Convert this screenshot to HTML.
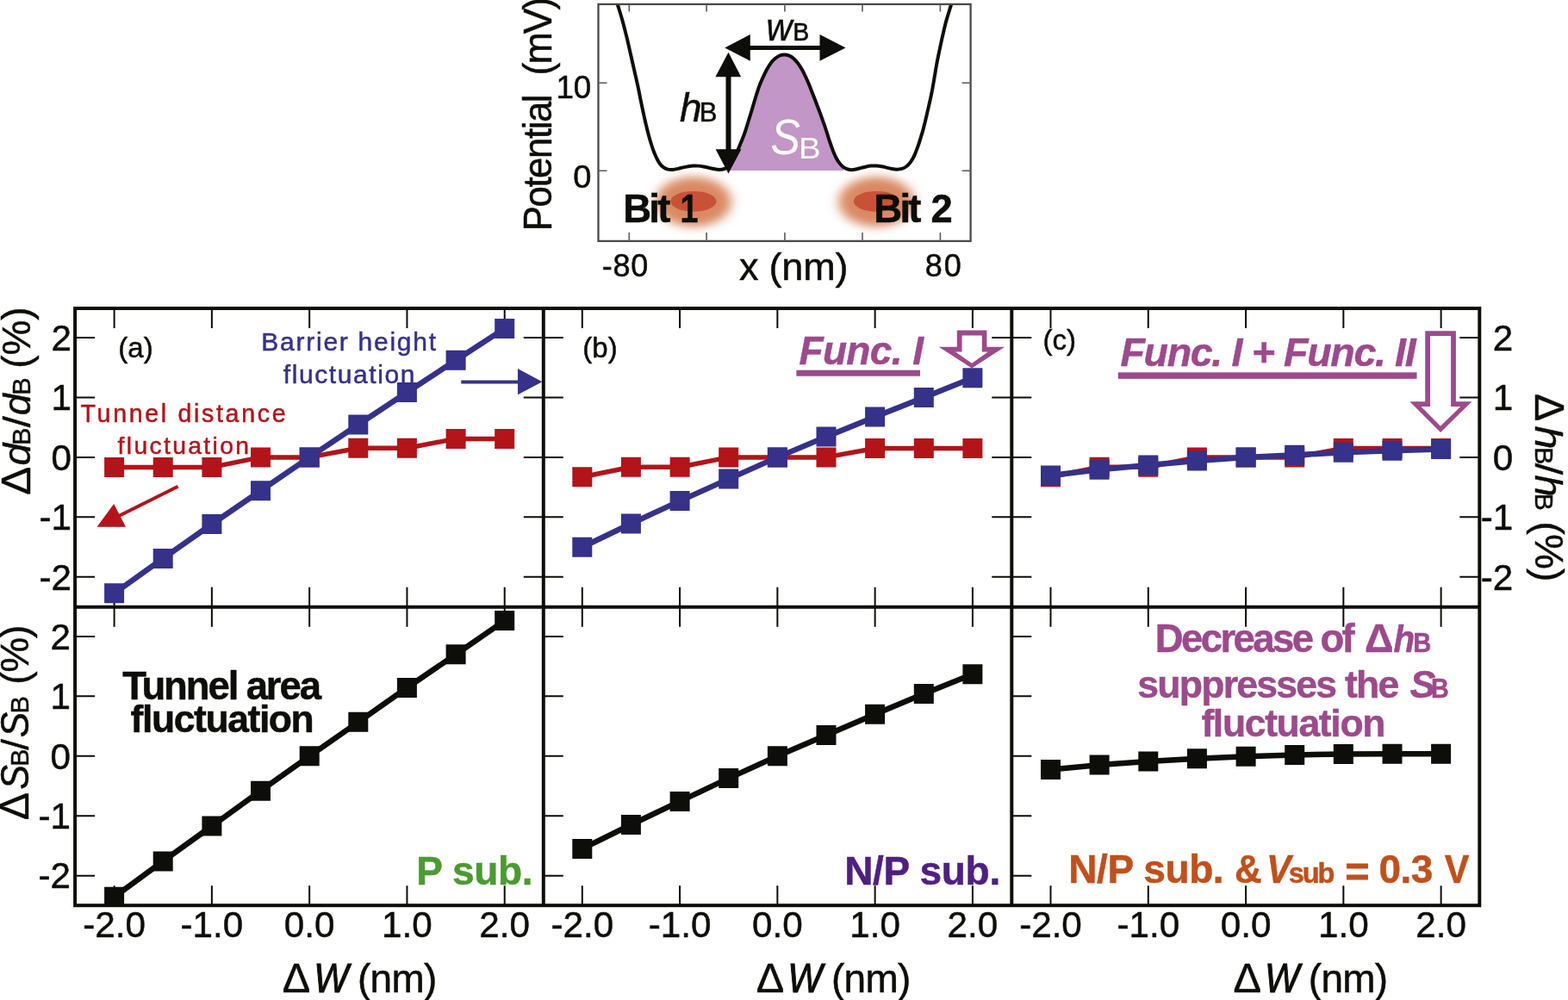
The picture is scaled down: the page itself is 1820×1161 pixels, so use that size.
<!DOCTYPE html>
<html lang="en">
<head>
<meta charset="utf-8">
<title>Potential barrier fluctuation figure</title>
<style>
html,body{margin:0;padding:0;background:#fff;}
body{width:1820px;height:1161px;overflow:hidden;}
svg{display:block;}
svg text{font-family:"Liberation Sans",sans-serif;}
</style>
</head>
<body>
<svg width="1820" height="1161" viewBox="0 0 1820 1161">
<rect x="0" y="0" width="1820" height="1161" fill="#fff"/>
<g stroke="#0d0d09" fill="none" stroke-linecap="butt">
<rect x="87.1" y="358.0" width="1630.20" height="693.20" stroke-width="4.0"/>
<line x1="630.8" y1="358.0" x2="630.8" y2="1051.2" stroke-width="4.0"/>
<line x1="1174.3" y1="358.0" x2="1174.3" y2="1051.2" stroke-width="4.0"/>
<line x1="87.1" y1="704.8" x2="1717.3" y2="704.8" stroke-width="4.0"/>
<path d="M132.60 358.0v23.0M132.60 681.8v46.0M132.60 1051.2v-23.0M245.88 358.0v23.0M245.88 681.8v46.0M245.88 1051.2v-23.0M359.16 358.0v23.0M359.16 681.8v46.0M359.16 1051.2v-23.0M472.44 358.0v23.0M472.44 681.8v46.0M472.44 1051.2v-23.0M585.72 358.0v23.0M585.72 681.8v46.0M585.72 1051.2v-23.0M675.80 358.0v23.0M675.80 681.8v46.0M675.80 1051.2v-23.0M789.08 358.0v23.0M789.08 681.8v46.0M789.08 1051.2v-23.0M902.36 358.0v23.0M902.36 681.8v46.0M902.36 1051.2v-23.0M1015.64 358.0v23.0M1015.64 681.8v46.0M1015.64 1051.2v-23.0M1128.92 358.0v23.0M1128.92 681.8v46.0M1128.92 1051.2v-23.0M1219.50 358.0v23.0M1219.50 681.8v46.0M1219.50 1051.2v-23.0M1332.78 358.0v23.0M1332.78 681.8v46.0M1332.78 1051.2v-23.0M1446.06 358.0v23.0M1446.06 681.8v46.0M1446.06 1051.2v-23.0M1559.34 358.0v23.0M1559.34 681.8v46.0M1559.34 1051.2v-23.0M1672.62 358.0v23.0M1672.62 681.8v46.0M1672.62 1051.2v-23.0M87.1 669.80h23.0M630.8 669.80h-23.0M87.1 1016.70h23.0M630.8 669.80h23.0M1174.3 669.80h-23.0M630.8 1016.70h23.0M1174.3 669.80h23.0M1717.3 669.80h-23.0M1174.3 1016.70h23.0M87.1 600.35h23.0M630.8 600.35h-23.0M87.1 947.25h23.0M630.8 600.35h23.0M1174.3 600.35h-23.0M630.8 947.25h23.0M1174.3 600.35h23.0M1717.3 600.35h-23.0M1174.3 947.25h23.0M87.1 530.90h23.0M630.8 530.90h-23.0M87.1 877.80h23.0M630.8 530.90h23.0M1174.3 530.90h-23.0M630.8 877.80h23.0M1174.3 530.90h23.0M1717.3 530.90h-23.0M1174.3 877.80h23.0M87.1 461.45h23.0M630.8 461.45h-23.0M87.1 808.35h23.0M630.8 461.45h23.0M1174.3 461.45h-23.0M630.8 808.35h23.0M1174.3 461.45h23.0M1717.3 461.45h-23.0M1174.3 808.35h23.0M87.1 392.00h23.0M630.8 392.00h-23.0M87.1 738.90h23.0M630.8 392.00h23.0M1174.3 392.00h-23.0M630.8 738.90h23.0M1174.3 392.00h23.0M1717.3 392.00h-23.0M1174.3 738.90h23.0" stroke-width="2.0"/>
</g>
<path d="M132.6 542.4L189.2 542.4L245.9 542.4L302.5 530.9L359.2 530.9L415.8 520.3L472.4 520.3L529.1 509.4L585.7 509.4" stroke="#b2141a" stroke-width="5.5" fill="none" stroke-linejoin="round"/>
<path d="M121.1 530.9h23.0v23.0h-23.0zM177.7 530.9h23.0v23.0h-23.0zM234.4 530.9h23.0v23.0h-23.0zM291.0 519.4h23.0v23.0h-23.0zM347.7 519.4h23.0v23.0h-23.0zM404.3 508.8h23.0v23.0h-23.0zM460.9 508.8h23.0v23.0h-23.0zM517.6 497.9h23.0v23.0h-23.0zM574.2 497.9h23.0v23.0h-23.0z" fill="#b2141a"/>
<path d="M132.6 688.8L189.2 648.4L245.9 608.5L302.5 569.8L359.2 530.9L415.8 493.0L472.4 455.5L529.1 418.3L585.7 381.4" stroke="#363189" stroke-width="6.5" fill="none" stroke-linejoin="round"/>
<path d="M121.1 677.3h23.0v23.0h-23.0zM177.7 636.9h23.0v23.0h-23.0zM234.4 597.0h23.0v23.0h-23.0zM291.0 558.3h23.0v23.0h-23.0zM347.7 519.4h23.0v23.0h-23.0zM404.3 481.5h23.0v23.0h-23.0zM460.9 444.0h23.0v23.0h-23.0zM517.6 406.8h23.0v23.0h-23.0zM574.2 369.9h23.0v23.0h-23.0z" fill="#363189"/>
<path d="M675.8 553.8L732.4 542.2L789.1 542.2L845.7 530.9L902.4 530.9L959.0 530.9L1015.6 520.5L1072.3 520.5L1128.9 520.5" stroke="#b2141a" stroke-width="5.5" fill="none" stroke-linejoin="round"/>
<path d="M664.3 542.3h23.0v23.0h-23.0zM720.9 530.7h23.0v23.0h-23.0zM777.6 530.7h23.0v23.0h-23.0zM834.2 519.4h23.0v23.0h-23.0zM890.9 519.4h23.0v23.0h-23.0zM947.5 519.4h23.0v23.0h-23.0zM1004.1 509.0h23.0v23.0h-23.0zM1060.8 509.0h23.0v23.0h-23.0zM1117.4 509.0h23.0v23.0h-23.0z" fill="#b2141a"/>
<path d="M675.8 635.2L732.4 608.0L789.1 581.6L845.7 556.1L902.4 530.9L959.0 507.1L1015.6 484.0L1072.3 461.4L1128.9 438.7" stroke="#363189" stroke-width="6.5" fill="none" stroke-linejoin="round"/>
<path d="M664.3 623.7h23.0v23.0h-23.0zM720.9 596.5h23.0v23.0h-23.0zM777.6 570.1h23.0v23.0h-23.0zM834.2 544.6h23.0v23.0h-23.0zM890.9 519.4h23.0v23.0h-23.0zM947.5 495.6h23.0v23.0h-23.0zM1004.1 472.5h23.0v23.0h-23.0zM1060.8 449.9h23.0v23.0h-23.0zM1117.4 427.2h23.0v23.0h-23.0z" fill="#363189"/>
<path d="M1219.5 553.8L1276.1 542.2L1332.8 542.2L1389.4 530.9L1446.1 530.9L1502.7 530.9L1559.3 520.5L1616.0 520.5L1672.6 520.5" stroke="#b2141a" stroke-width="5.5" fill="none" stroke-linejoin="round"/>
<path d="M1208.0 542.3h23.0v23.0h-23.0zM1264.6 530.7h23.0v23.0h-23.0zM1321.3 530.7h23.0v23.0h-23.0zM1377.9 519.4h23.0v23.0h-23.0zM1434.6 519.4h23.0v23.0h-23.0zM1491.2 519.4h23.0v23.0h-23.0zM1547.8 509.0h23.0v23.0h-23.0zM1604.5 509.0h23.0v23.0h-23.0zM1661.1 509.0h23.0v23.0h-23.0z" fill="#b2141a"/>
<path d="M1219.5 551.9L1276.1 545.3L1332.8 540.1L1389.4 535.1L1446.1 530.9L1502.7 528.3L1559.3 525.3L1616.0 523.3L1672.6 521.5" stroke="#363189" stroke-width="6.5" fill="none" stroke-linejoin="round"/>
<path d="M1208.0 540.4h23.0v23.0h-23.0zM1264.6 533.8h23.0v23.0h-23.0zM1321.3 528.6h23.0v23.0h-23.0zM1377.9 523.6h23.0v23.0h-23.0zM1434.6 519.4h23.0v23.0h-23.0zM1491.2 516.8h23.0v23.0h-23.0zM1547.8 513.8h23.0v23.0h-23.0zM1604.5 511.8h23.0v23.0h-23.0zM1661.1 510.0h23.0v23.0h-23.0z" fill="#363189"/>
<path d="M132.6 1041.3L189.2 999.9L245.9 959.0L302.5 918.2L359.2 877.8L415.8 838.3L472.4 798.5L529.1 759.7L585.7 720.6" stroke="#0d0d09" stroke-width="6.5" fill="none" stroke-linejoin="round"/>
<path d="M121.1 1029.8h23.0v23.0h-23.0zM177.7 988.4h23.0v23.0h-23.0zM234.4 947.5h23.0v23.0h-23.0zM291.0 906.7h23.0v23.0h-23.0zM347.7 866.3h23.0v23.0h-23.0zM404.3 826.8h23.0v23.0h-23.0zM460.9 787.0h23.0v23.0h-23.0zM517.6 748.2h23.0v23.0h-23.0zM574.2 709.1h23.0v23.0h-23.0z" fill="#0d0d09"/>
<path d="M675.8 985.4L732.4 957.5L789.1 930.4L845.7 903.6L902.4 877.8L959.0 853.6L1015.6 829.3L1072.3 805.6L1128.9 782.7" stroke="#0d0d09" stroke-width="6.5" fill="none" stroke-linejoin="round"/>
<path d="M664.3 973.9h23.0v23.0h-23.0zM720.9 946.0h23.0v23.0h-23.0zM777.6 918.9h23.0v23.0h-23.0zM834.2 892.1h23.0v23.0h-23.0zM890.9 866.3h23.0v23.0h-23.0zM947.5 842.1h23.0v23.0h-23.0zM1004.1 817.8h23.0v23.0h-23.0zM1060.8 794.1h23.0v23.0h-23.0zM1117.4 771.2h23.0v23.0h-23.0z" fill="#0d0d09"/>
<path d="M1219.5 893.4L1276.1 888.1L1332.8 884.1L1389.4 880.7L1446.1 878.2L1502.7 876.4L1559.3 875.5L1616.0 875.2L1672.6 875.2" stroke="#0d0d09" stroke-width="6.5" fill="none" stroke-linejoin="round"/>
<path d="M1208.0 881.9h23.0v23.0h-23.0zM1264.6 876.6h23.0v23.0h-23.0zM1321.3 872.6h23.0v23.0h-23.0zM1377.9 869.2h23.0v23.0h-23.0zM1434.6 866.7h23.0v23.0h-23.0zM1491.2 864.9h23.0v23.0h-23.0zM1547.8 864.0h23.0v23.0h-23.0zM1604.5 863.7h23.0v23.0h-23.0zM1661.1 863.7h23.0v23.0h-23.0z" fill="#0d0d09"/>
<line x1="206.6" y1="564.8" x2="138" y2="599" stroke="#b2141a" stroke-width="4"/>
<polygon points="112.5,611.8 146,611.8 132.2,585" fill="#b2141a"/>
<line x1="535.3" y1="443.4" x2="605" y2="443.4" stroke="#363189" stroke-width="4"/>
<polygon points="601,427.9 629.4,443.2 601,458.2" fill="#363189"/>
<polygon points="1110.8,383.6 1145.4,383.6 1145.4,402.8 1166.2,402.8 1128,427.6 1089.7,402.8 1110.8,402.8" fill="#9c4a8c"/>
<polygon points="1116.6,389.6 1139.8,389.6 1139.8,408.6 1146.8,408.6 1128,421.8 1109,408.6 1116.6,408.6" fill="#fff"/>
<polygon points="1654.2,384.3 1689.9,384.3 1689.9,466.2 1708.4,466.2 1672,502.1 1636.3,466.2 1654.2,466.2" fill="#9c4a8c"/>
<polygon points="1660,390.1 1684.1,390.1 1684.1,471.9 1695.2,471.9 1672,494.7 1649.5,471.9 1660,471.9" fill="#fff"/>
<rect x="924.4" y="429.7" width="143.6" height="7" fill="#9c4a8c"/>
<rect x="1297.8" y="432.3" width="346.7" height="7.5" fill="#9c4a8c"/>
<text x="83.0" y="406.7" font-size="42.2" fill="#0d0d09" text-anchor="end" stroke="#0d0d09" stroke-width="0.5">2</text>
<text x="82.0" y="753.6" font-size="42.2" fill="#0d0d09" text-anchor="end" stroke="#0d0d09" stroke-width="0.5">2</text>
<text x="1756.3" y="406.7" font-size="42.2" fill="#0d0d09" text-anchor="end" stroke="#0d0d09" stroke-width="0.5">2</text>
<text x="83.0" y="476.1" font-size="42.2" fill="#0d0d09" text-anchor="end" stroke="#0d0d09" stroke-width="0.5">1</text>
<text x="82.0" y="823.0" font-size="42.2" fill="#0d0d09" text-anchor="end" stroke="#0d0d09" stroke-width="0.5">1</text>
<text x="1756.3" y="476.1" font-size="42.2" fill="#0d0d09" text-anchor="end" stroke="#0d0d09" stroke-width="0.5">1</text>
<text x="83.0" y="545.6" font-size="42.2" fill="#0d0d09" text-anchor="end" stroke="#0d0d09" stroke-width="0.5">0</text>
<text x="82.0" y="892.5" font-size="42.2" fill="#0d0d09" text-anchor="end" stroke="#0d0d09" stroke-width="0.5">0</text>
<text x="1756.3" y="545.6" font-size="42.2" fill="#0d0d09" text-anchor="end" stroke="#0d0d09" stroke-width="0.5">0</text>
<text x="83.0" y="615.1" font-size="42.2" fill="#0d0d09" text-anchor="end" stroke="#0d0d09" stroke-width="0.5">-1</text>
<text x="82.0" y="962.0" font-size="42.2" fill="#0d0d09" text-anchor="end" stroke="#0d0d09" stroke-width="0.5">-1</text>
<text x="1756.3" y="615.1" font-size="42.2" fill="#0d0d09" text-anchor="end" stroke="#0d0d09" stroke-width="0.5">-1</text>
<text x="83.0" y="684.5" font-size="42.2" fill="#0d0d09" text-anchor="end" stroke="#0d0d09" stroke-width="0.5">-2</text>
<text x="82.0" y="1031.4" font-size="42.2" fill="#0d0d09" text-anchor="end" stroke="#0d0d09" stroke-width="0.5">-2</text>
<text x="1756.3" y="684.5" font-size="42.2" fill="#0d0d09" text-anchor="end" stroke="#0d0d09" stroke-width="0.5">-2</text>
<text x="132.6" y="1088" font-size="42.2" fill="#0d0d09" text-anchor="middle" stroke="#0d0d09" stroke-width="0.5">-2.0</text>
<text x="245.9" y="1088" font-size="42.2" fill="#0d0d09" text-anchor="middle" stroke="#0d0d09" stroke-width="0.5">-1.0</text>
<text x="359.2" y="1088" font-size="42.2" fill="#0d0d09" text-anchor="middle" stroke="#0d0d09" stroke-width="0.5">0.0</text>
<text x="472.4" y="1088" font-size="42.2" fill="#0d0d09" text-anchor="middle" stroke="#0d0d09" stroke-width="0.5">1.0</text>
<text x="585.7" y="1088" font-size="42.2" fill="#0d0d09" text-anchor="middle" stroke="#0d0d09" stroke-width="0.5">2.0</text>
<text x="675.8" y="1088" font-size="42.2" fill="#0d0d09" text-anchor="middle" stroke="#0d0d09" stroke-width="0.5">-2.0</text>
<text x="789.1" y="1088" font-size="42.2" fill="#0d0d09" text-anchor="middle" stroke="#0d0d09" stroke-width="0.5">-1.0</text>
<text x="902.4" y="1088" font-size="42.2" fill="#0d0d09" text-anchor="middle" stroke="#0d0d09" stroke-width="0.5">0.0</text>
<text x="1015.6" y="1088" font-size="42.2" fill="#0d0d09" text-anchor="middle" stroke="#0d0d09" stroke-width="0.5">1.0</text>
<text x="1128.9" y="1088" font-size="42.2" fill="#0d0d09" text-anchor="middle" stroke="#0d0d09" stroke-width="0.5">2.0</text>
<text x="1219.5" y="1088" font-size="42.2" fill="#0d0d09" text-anchor="middle" stroke="#0d0d09" stroke-width="0.5">-2.0</text>
<text x="1332.8" y="1088" font-size="42.2" fill="#0d0d09" text-anchor="middle" stroke="#0d0d09" stroke-width="0.5">-1.0</text>
<text x="1446.1" y="1088" font-size="42.2" fill="#0d0d09" text-anchor="middle" stroke="#0d0d09" stroke-width="0.5">0.0</text>
<text x="1559.3" y="1088" font-size="42.2" fill="#0d0d09" text-anchor="middle" stroke="#0d0d09" stroke-width="0.5">1.0</text>
<text x="1672.6" y="1088" font-size="42.2" fill="#0d0d09" text-anchor="middle" stroke="#0d0d09" stroke-width="0.5">2.0</text>
<text fill="#0d0d09"><tspan x="327.71" y="1151.6" font-size="47.2" stroke="#0d0d09" stroke-width="0.5" font-style="normal" textLength="32.51" lengthAdjust="spacingAndGlyphs">Δ</tspan><tspan x="364.32" y="1151.6" font-size="47.2" stroke="#0d0d09" stroke-width="1.0" font-style="italic" textLength="40.43" lengthAdjust="spacingAndGlyphs">W</tspan> <tspan x="415" y="1151.6" font-size="46" stroke="#0d0d09" stroke-width="0.5" font-style="normal" letter-spacing="-0.73">(nm)</tspan></text>
<text fill="#0d0d09"><tspan x="877.71" y="1151.6" font-size="47.2" stroke="#0d0d09" stroke-width="0.5" font-style="normal" textLength="32.51" lengthAdjust="spacingAndGlyphs">Δ</tspan><tspan x="914.32" y="1151.6" font-size="47.2" stroke="#0d0d09" stroke-width="1.0" font-style="italic" textLength="40.43" lengthAdjust="spacingAndGlyphs">W</tspan> <tspan x="965" y="1151.6" font-size="46" stroke="#0d0d09" stroke-width="0.5" font-style="normal" letter-spacing="-0.73">(nm)</tspan></text>
<text fill="#0d0d09"><tspan x="1431.51" y="1151.6" font-size="47.2" stroke="#0d0d09" stroke-width="0.5" font-style="normal" textLength="32.51" lengthAdjust="spacingAndGlyphs">Δ</tspan><tspan x="1468.12" y="1151.6" font-size="47.2" stroke="#0d0d09" stroke-width="1.0" font-style="italic" textLength="40.43" lengthAdjust="spacingAndGlyphs">W</tspan> <tspan x="1518.8" y="1151.6" font-size="46" stroke="#0d0d09" stroke-width="0.5" font-style="normal" letter-spacing="-0.73">(nm)</tspan></text>
<text font-size="33" fill="#0d0d09" stroke="#0d0d09" stroke-width="0.5"><tspan x="137.15" y="414.9" letter-spacing="0.08">(a)</tspan></text>
<text font-size="33" fill="#0d0d09" stroke="#0d0d09" stroke-width="0.5"><tspan x="676.25" y="415.3" letter-spacing="0.12">(b)</tspan></text>
<text font-size="33" fill="#0d0d09" stroke="#0d0d09" stroke-width="0.5"><tspan x="1210.45" y="405.6" letter-spacing="0.05">(c)</tspan></text>
<text font-size="28.6" fill="#b2141a" stroke="#b2141a" stroke-width="0.5"><tspan x="93.5" y="489.5" letter-spacing="2.66">Tunnel distance</tspan></text>
<text font-size="28.3" fill="#b2141a" stroke="#b2141a" stroke-width="0.5"><tspan x="136.55" y="527.3" letter-spacing="2.34">fluctuation</tspan></text>
<text font-size="30" fill="#363189" stroke="#363189" stroke-width="0.5"><tspan x="303.35" y="406.8" letter-spacing="1.74">Barrier height</tspan></text>
<text font-size="30" fill="#363189" stroke="#363189" stroke-width="0.5"><tspan x="328.75" y="444.6" letter-spacing="1.59">fluctuation</tspan></text>
<text font-size="46" fill="#9c4a8c" stroke="#9c4a8c" stroke-width="0.5" font-weight="700" font-style="italic"><tspan x="927.4" y="422.6" letter-spacing="-0.61">Func. I</tspan></text>
<text font-size="46.5" fill="#9c4a8c" stroke="#9c4a8c" stroke-width="0.5" font-weight="700" font-style="italic"><tspan x="1300.5" y="424.9" letter-spacing="-1.32">Func. I + Func. II</tspan></text>
<text font-size="45.5" fill="#0d0d09" stroke="#0d0d09" stroke-width="0.5" font-weight="700"><tspan x="142.15" y="811.6" letter-spacing="-2.12">Tunnel area</tspan></text>
<text font-size="44.5" fill="#0d0d09" stroke="#0d0d09" stroke-width="0.5" font-weight="700"><tspan x="151.6" y="849.8" letter-spacing="-1.42">fluctuation</tspan></text>
<text font-size="46" fill="#4c9a32" stroke="#4c9a32" stroke-width="0.5" font-weight="700"><tspan x="483.25" y="1026.8" letter-spacing="-0.38">P sub.</tspan></text>
<text font-size="46" fill="#4f2080" stroke="#4f2080" stroke-width="0.5" font-weight="700"><tspan x="980.15" y="1026.6" letter-spacing="-0.31">N/P sub.</tspan></text>
<text fill="#c0501c" font-weight="700"><tspan x="1240.25" y="1025.2" font-size="46" stroke="#c0501c" stroke-width="0.5" font-style="normal" letter-spacing="-0.40">N/P sub.</tspan> <tspan x="1432.93" y="1025.2" font-size="46" stroke="#c0501c" stroke-width="0.5" font-style="normal" textLength="31.64" lengthAdjust="spacingAndGlyphs">&amp;</tspan> <tspan x="1470.06" y="1025.2" font-size="46" stroke="#c0501c" stroke-width="0.5" font-style="italic" textLength="28.44" lengthAdjust="spacingAndGlyphs">V</tspan><tspan x="1495.85" y="1025.4" font-size="32.5" stroke="#c0501c" stroke-width="0.5" font-style="normal" letter-spacing="-2.10">sub</tspan> <tspan x="1561.44" y="1028.4" font-size="46" stroke="#c0501c" stroke-width="1.0" font-style="normal" textLength="27.88" lengthAdjust="spacingAndGlyphs">=</tspan> <tspan x="1600.5" y="1025.2" font-size="46" stroke="#c0501c" stroke-width="0.5" font-style="normal" letter-spacing="-0.60">0.3</tspan> <tspan x="1676.7" y="1025.2" font-size="46" stroke="#c0501c" stroke-width="0.5" font-style="normal" textLength="28.64" lengthAdjust="spacingAndGlyphs">V</tspan></text>
<text fill="#9c4a8c" stroke="#9c4a8c" stroke-width="0.5" font-weight="700"><tspan x="1340.75" y="757.1" font-size="45.5" font-style="normal" letter-spacing="-2.60">Decrease of</tspan> <tspan x="1584.08" y="757.1" font-size="46" font-style="normal" textLength="33.50" lengthAdjust="spacingAndGlyphs">Δ</tspan><tspan x="1617.55" y="757.1" font-size="44.5" font-style="italic" textLength="24.69" lengthAdjust="spacingAndGlyphs">h</tspan><tspan x="1640.33" y="757.1" font-size="30.5" font-style="normal" textLength="21.06" lengthAdjust="spacingAndGlyphs">B</tspan></text>
<text fill="#9c4a8c" stroke="#9c4a8c" stroke-width="0.5" font-weight="700"><tspan x="1320.25" y="809.9" font-size="44.5" font-style="normal" letter-spacing="-1.73">suppresses the</tspan> <tspan x="1636.55" y="809.9" font-size="45" font-style="italic" textLength="29.91" lengthAdjust="spacingAndGlyphs">S</tspan><tspan x="1660.95" y="809.9" font-size="30.5" font-style="normal" textLength="20.72" lengthAdjust="spacingAndGlyphs">B</tspan></text>
<text font-size="44.5" fill="#9c4a8c" stroke="#9c4a8c" stroke-width="0.5" font-weight="700"><tspan x="1394.4" y="855.1" letter-spacing="-1.34">fluctuation</tspan></text>
<text transform="translate(34.8 0) rotate(-90)" fill="#0d0d09" stroke="#0d0d09" stroke-width="0.5"><tspan x="-574.79" y="0" font-size="47.5" font-style="normal" textLength="32.87" lengthAdjust="spacingAndGlyphs">Δ</tspan><tspan x="-540.58" y="0" font-size="45.2" font-style="italic" textLength="25.79" lengthAdjust="spacingAndGlyphs">d</tspan><tspan x="-516.99" y="0" font-size="30" font-style="normal" textLength="20.38" lengthAdjust="spacingAndGlyphs">B</tspan><tspan x="-496.34" y="0" font-size="45.2" font-style="normal" textLength="13.14" lengthAdjust="spacingAndGlyphs">/</tspan><tspan x="-482.35" y="0" font-size="45.2" font-style="italic" textLength="25.09" lengthAdjust="spacingAndGlyphs">d</tspan><tspan x="-458.79" y="0" font-size="30" font-style="normal" textLength="20.38" lengthAdjust="spacingAndGlyphs">B</tspan> <tspan x="-427.7" y="0" font-size="46" font-style="normal" letter-spacing="-0.10">(%)</tspan></text>
<text transform="translate(33.2 0) rotate(-90)" fill="#0d0d09" stroke="#0d0d09" stroke-width="0.5"><tspan x="-952.26" y="0" font-size="47.5" font-style="normal" textLength="32.11" lengthAdjust="spacingAndGlyphs">Δ</tspan><tspan x="-916.83" y="0" font-size="46.5" font-style="italic" textLength="28.77" lengthAdjust="spacingAndGlyphs">S</tspan><tspan x="-889.86" y="0" font-size="30" font-style="normal" textLength="20.14" lengthAdjust="spacingAndGlyphs">B</tspan><tspan x="-870.75" y="0" font-size="45.2" font-style="normal" textLength="12.66" lengthAdjust="spacingAndGlyphs">/</tspan><tspan x="-856.15" y="0" font-size="46.5" font-style="italic" textLength="29.50" lengthAdjust="spacingAndGlyphs">S</tspan><tspan x="-828.49" y="0" font-size="30" font-style="normal" textLength="20.38" lengthAdjust="spacingAndGlyphs">B</tspan> <tspan x="-794.8" y="0" font-size="46" font-style="normal" letter-spacing="-1.15">(%)</tspan></text>
<text transform="translate(1782.2 0) rotate(90)" fill="#0d0d09" stroke="#0d0d09" stroke-width="0.5"><tspan x="457.03" y="0" font-size="47.5" font-style="normal" textLength="32.22" lengthAdjust="spacingAndGlyphs">Δ</tspan><tspan x="494.46" y="0" font-size="45.2" font-style="italic" textLength="27.07" lengthAdjust="spacingAndGlyphs">h</tspan><tspan x="519.01" y="0" font-size="30" font-style="normal" textLength="20.38" lengthAdjust="spacingAndGlyphs">B</tspan><tspan x="537.77" y="0" font-size="45.2" font-style="normal" textLength="13.53" lengthAdjust="spacingAndGlyphs">/</tspan><tspan x="551.5" y="0" font-size="45.2" font-style="italic" textLength="25.20" lengthAdjust="spacingAndGlyphs">h</tspan><tspan x="572.74" y="0" font-size="30" font-style="normal" textLength="20.14" lengthAdjust="spacingAndGlyphs">B</tspan> <tspan x="605.5" y="0" font-size="46" font-style="normal" letter-spacing="-0.85">(%)</tspan></text>
<defs><filter id="soft" x="-50%" y="-60%" width="200%" height="220%"><feGaussianBlur stdDeviation="6.5 5.5"/></filter></defs>
<ellipse cx="804.9" cy="234.3" rx="44" ry="29" fill="#d98964" filter="url(#soft)"/>
<ellipse cx="804.9" cy="233.8" rx="26.6" ry="11.9" fill="#c85238"/>
<ellipse cx="1017.3" cy="234.3" rx="44" ry="29" fill="#d98964" filter="url(#soft)"/>
<ellipse cx="1017.3" cy="233.8" rx="26.6" ry="11.9" fill="#c85238"/>
<path d="M845.5 197.9C846.11 196.41 848.04 191.33 849.16 188.98C850.27 186.63 851.28 185.57 852.19 183.8C853.11 182.02 853.85 180.15 854.65 178.32C855.45 176.48 856.2 174.62 856.98 172.78C857.75 170.93 858.53 169.09 859.3 167.24C860.07 165.4 860.84 163.55 861.58 161.7C862.32 159.84 863.05 157.98 863.74 156.1C864.43 154.22 865.09 152.33 865.72 150.44C866.35 148.54 866.92 146.62 867.51 144.71C868.09 142.8 868.65 140.88 869.23 138.96C869.82 137.05 870.41 135.14 870.99 133.23C871.58 131.31 872.16 129.4 872.73 127.48C873.3 125.57 873.85 123.64 874.42 121.73C874.99 119.81 875.55 117.89 876.13 115.98C876.71 114.06 877.31 112.15 877.9 110.24C878.49 108.33 879.07 106.41 879.7 104.52C880.33 102.62 880.98 100.73 881.7 98.87C882.41 97.01 883.22 95.17 884.01 93.34C884.81 91.5 885.61 89.67 886.47 87.86C887.32 86.05 888.18 84.25 889.12 82.48C890.06 80.72 891.03 78.95 892.08 77.26C893.13 75.56 894.2 73.85 895.45 72.3C896.69 70.75 898.04 69.2 899.56 67.95C901.08 66.69 902.77 65.5 904.56 64.76C906.35 64.02 908.38 63.54 910.29 63.53C912.2 63.52 914.21 63.98 916 64.71C917.78 65.43 919.48 66.64 921.01 67.88C922.55 69.13 923.91 70.65 925.19 72.18C926.47 73.7 927.62 75.37 928.71 77.04C929.8 78.71 930.79 80.45 931.74 82.21C932.68 83.97 933.51 85.79 934.37 87.6C935.23 89.41 936.07 91.22 936.88 93.05C937.69 94.88 938.47 96.72 939.23 98.57C939.99 100.42 940.71 102.29 941.45 104.15C942.19 106 942.93 107.86 943.65 109.73C944.38 111.59 945.11 113.45 945.82 115.32C946.54 117.19 947.25 119.06 947.96 120.93C948.67 122.8 949.38 124.67 950.09 126.54C950.79 128.41 951.49 130.28 952.18 132.16C952.86 134.04 953.54 135.92 954.22 137.8C954.9 139.68 955.59 141.56 956.25 143.45C956.91 145.34 957.57 147.23 958.2 149.12C958.83 151.02 959.42 152.93 960.03 154.84C960.64 156.74 961.22 158.65 961.84 160.56C962.46 162.46 963.09 164.35 963.75 166.25C964.4 168.14 965.06 170.03 965.75 171.91C966.43 173.78 967.1 175.67 967.87 177.51C968.65 179.36 969.47 181.18 970.41 182.95C971.34 184.71 972.33 186.49 973.48 188.11C974.64 189.73 976.38 191.03 977.35 192.67C978.32 194.3 978.98 197.03 979.3 197.9Z" fill="#c296c6"/>
<clipPath id="insetclip"><rect x="694.5" y="4.9" width="432.1" height="275.0"/></clipPath>
<path d="M715.5 0.8C715.7 1.47 716.21 3.18 716.7 4.8C717.2 6.42 717.88 8.62 718.47 10.53C719.06 12.44 719.66 14.35 720.24 16.27C720.82 18.18 721.4 20.09 721.95 22.02C722.5 23.94 723 25.87 723.52 27.81C724.03 29.74 724.52 31.68 725.02 33.62C725.52 35.55 726.03 37.49 726.52 39.43C727.01 41.36 727.5 43.3 727.96 45.25C728.43 47.19 728.87 49.14 729.31 51.09C729.75 53.04 730.19 55 730.63 56.95C731.07 58.9 731.51 60.85 731.95 62.8C732.39 64.75 732.83 66.7 733.27 68.65C733.71 70.6 734.15 72.56 734.6 74.51C735.04 76.46 735.49 78.41 735.93 80.36C736.37 82.31 736.82 84.26 737.26 86.21C737.71 88.16 738.16 90.1 738.6 92.06C739.04 94.01 739.49 95.95 739.92 97.91C740.34 99.86 740.75 101.82 741.16 103.78C741.56 105.74 741.94 107.7 742.34 109.66C742.73 111.62 743.11 113.59 743.51 115.55C743.9 117.51 744.29 119.47 744.7 121.43C745.11 123.38 745.53 125.34 745.95 127.29C746.37 129.25 746.8 131.2 747.22 133.16C747.65 135.11 748.07 137.07 748.51 139.02C748.95 140.97 749.4 142.92 749.87 144.86C750.33 146.81 750.82 148.75 751.3 150.69C751.79 152.63 752.26 154.57 752.78 156.5C753.29 158.44 753.82 160.36 754.38 162.28C754.95 164.2 755.54 166.11 756.15 168.02C756.76 169.92 757.37 171.83 758.05 173.71C758.73 175.59 759.43 177.46 760.21 179.31C760.99 181.15 761.78 183.01 762.71 184.77C763.65 186.54 764.63 188.35 765.84 189.91C767.04 191.48 768.39 193.05 769.95 194.16C771.51 195.28 773.35 196.12 775.21 196.58C777.07 197.03 779.14 197.01 781.11 196.89C783.08 196.77 785.07 196.27 787.03 195.86C789 195.45 790.93 194.87 792.88 194.42C794.84 193.98 796.79 193.5 798.76 193.17C800.73 192.85 802.71 192.57 804.7 192.48C806.69 192.39 808.69 192.45 810.67 192.62C812.66 192.79 814.63 193.14 816.6 193.5C818.57 193.86 820.51 194.34 822.47 194.76C824.43 195.19 826.39 195.7 828.36 196.06C830.34 196.41 832.36 196.87 834.32 196.91C836.28 196.94 838.33 196.85 840.14 196.27C841.95 195.69 843.7 194.65 845.2 193.43C846.7 192.21 847.99 190.58 849.16 188.98C850.32 187.37 851.28 185.57 852.19 183.8C853.11 182.02 853.85 180.15 854.65 178.32C855.45 176.48 856.2 174.62 856.98 172.78C857.75 170.93 858.53 169.09 859.3 167.24C860.07 165.4 860.84 163.55 861.58 161.7C862.32 159.84 863.05 157.98 863.74 156.1C864.43 154.22 865.09 152.33 865.72 150.44C866.35 148.54 866.92 146.62 867.51 144.71C868.09 142.8 868.65 140.88 869.23 138.96C869.82 137.05 870.41 135.14 870.99 133.23C871.58 131.31 872.16 129.4 872.73 127.48C873.3 125.57 873.85 123.64 874.42 121.73C874.99 119.81 875.55 117.89 876.13 115.98C876.71 114.06 877.31 112.15 877.9 110.24C878.49 108.33 879.07 106.41 879.7 104.52C880.33 102.62 880.98 100.73 881.7 98.87C882.41 97.01 883.22 95.17 884.01 93.34C884.81 91.5 885.61 89.67 886.47 87.86C887.32 86.05 888.18 84.25 889.12 82.48C890.06 80.72 891.03 78.95 892.08 77.26C893.13 75.56 894.2 73.85 895.45 72.3C896.69 70.75 898.04 69.2 899.56 67.95C901.08 66.69 902.77 65.5 904.56 64.76C906.35 64.02 908.38 63.54 910.29 63.53C912.2 63.52 914.21 63.98 916 64.71C917.78 65.43 919.48 66.64 921.01 67.88C922.55 69.13 923.91 70.65 925.19 72.18C926.47 73.7 927.62 75.37 928.71 77.04C929.8 78.71 930.79 80.45 931.74 82.21C932.68 83.97 933.51 85.79 934.37 87.6C935.23 89.41 936.07 91.22 936.88 93.05C937.69 94.88 938.47 96.72 939.23 98.57C939.99 100.42 940.71 102.29 941.45 104.15C942.19 106 942.93 107.86 943.65 109.73C944.38 111.59 945.11 113.45 945.82 115.32C946.54 117.19 947.25 119.06 947.96 120.93C948.67 122.8 949.38 124.67 950.09 126.54C950.79 128.41 951.49 130.28 952.18 132.16C952.86 134.04 953.54 135.92 954.22 137.8C954.9 139.68 955.59 141.56 956.25 143.45C956.91 145.34 957.57 147.23 958.2 149.12C958.83 151.02 959.42 152.93 960.03 154.84C960.64 156.74 961.22 158.65 961.84 160.56C962.46 162.46 963.09 164.35 963.75 166.25C964.4 168.14 965.06 170.03 965.75 171.91C966.43 173.78 967.1 175.67 967.87 177.51C968.65 179.36 969.47 181.18 970.41 182.95C971.34 184.71 972.33 186.49 973.48 188.11C974.64 189.73 975.89 191.36 977.35 192.67C978.81 193.97 980.47 195.19 982.23 195.94C984 196.69 985.99 197.08 987.92 197.16C989.85 197.25 991.87 196.83 993.83 196.45C995.79 196.07 997.72 195.39 999.66 194.89C1001.6 194.39 1003.53 193.82 1005.49 193.44C1007.45 193.06 1009.43 192.75 1011.41 192.6C1013.4 192.46 1015.4 192.45 1017.39 192.57C1019.37 192.68 1021.36 192.97 1023.32 193.31C1025.29 193.65 1027.23 194.18 1029.18 194.62C1031.14 195.06 1033.08 195.62 1035.05 195.96C1037.02 196.3 1039.04 196.66 1041.01 196.65C1042.98 196.64 1045.02 196.47 1046.87 195.91C1048.72 195.35 1050.52 194.41 1052.09 193.26C1053.66 192.12 1055.03 190.59 1056.27 189.05C1057.51 187.5 1058.55 185.75 1059.53 184.01C1060.51 182.27 1061.35 180.44 1062.14 178.61C1062.94 176.78 1063.62 174.89 1064.32 173.02C1065.02 171.14 1065.69 169.26 1066.33 167.36C1066.98 165.47 1067.57 163.56 1068.17 161.65C1068.76 159.74 1069.34 157.83 1069.9 155.91C1070.47 153.99 1071.05 152.07 1071.57 150.15C1072.1 148.22 1072.59 146.28 1073.07 144.34C1073.56 142.4 1074.01 140.45 1074.47 138.5C1074.93 136.56 1075.39 134.61 1075.85 132.66C1076.31 130.72 1076.76 128.77 1077.2 126.82C1077.65 124.87 1078.1 122.92 1078.54 120.97C1078.98 119.02 1079.43 117.07 1079.86 115.12C1080.29 113.16 1080.71 111.21 1081.11 109.25C1081.51 107.29 1081.89 105.33 1082.26 103.36C1082.63 101.39 1082.98 99.43 1083.33 97.46C1083.67 95.49 1084 93.51 1084.33 91.54C1084.66 89.57 1084.99 87.6 1085.32 85.62C1085.65 83.65 1085.97 81.68 1086.31 79.7C1086.65 77.73 1086.97 75.76 1087.33 73.79C1087.69 71.83 1088.08 69.86 1088.48 67.9C1088.87 65.94 1089.29 63.99 1089.7 62.03C1090.11 60.07 1090.52 58.12 1090.94 56.16C1091.35 54.2 1091.76 52.24 1092.18 50.29C1092.61 48.34 1093.05 46.38 1093.48 44.43C1093.92 42.48 1094.37 40.53 1094.81 38.58C1095.26 36.63 1095.68 34.68 1096.14 32.73C1096.6 30.78 1097.05 28.83 1097.56 26.9C1098.06 24.97 1098.63 23.05 1099.19 21.13C1099.76 19.22 1100.37 17.31 1100.95 15.4C1101.54 13.48 1102.18 11.41 1102.71 9.66C1103.25 7.91 1103.73 6.34 1104.18 4.88C1104.62 3.42 1105.18 1.55 1105.38 0.88" fill="none" stroke="#0d0d09" stroke-width="4" stroke-linejoin="round" clip-path="url(#insetclip)"/>
<g stroke="#4a4a48" fill="none">
<rect x="694.5" y="4.9" width="432.1" height="275.0" stroke-width="2.3"/>
<path d="M730.3 4.9v8.6M730.3 279.9v-9.8M820.1 4.9v8.6M820.1 279.9v-9.8M910.9 4.9v8.6M910.9 279.9v-9.8M1001.0 4.9v8.6M1001.0 279.9v-9.8M1091.4 4.9v8.6M1091.4 279.9v-9.8M694.5 96.3h10M1126.6 96.3h-10M694.5 198.3h10M1126.6 198.3h-10" stroke-width="1.6" stroke="#5a5a58"/>
</g>
<g fill="#0d0d09" stroke="none">
<rect x="866" y="53" width="92" height="5"/>
<polygon points="841.3,55.4 870.8,40 870.8,70.8"/>
<polygon points="981.5,55.4 951.5,40 951.5,70.8"/>
<rect x="842.5" y="85" width="6" height="95"/>
<polygon points="845.5,60.7 830.4,89.2 860.2,89.2"/>
<polygon points="845.5,201.5 830.6,173.2 860.4,173.2"/>
</g>
<text fill="#0d0d09" stroke="#0d0d09" stroke-width="0.5"><tspan x="889.45" y="46.6" font-size="45" font-style="italic" textLength="30.01" lengthAdjust="spacingAndGlyphs">w</tspan><tspan x="920.32" y="46.6" font-size="29.4" font-style="normal" textLength="19.00" lengthAdjust="spacingAndGlyphs">B</tspan></text>
<text fill="#0d0d09" stroke="#0d0d09" stroke-width="0.5"><tspan x="788.9" y="140.8" font-size="45.5" font-style="italic" textLength="25.53" lengthAdjust="spacingAndGlyphs">h</tspan><tspan x="811.78" y="140.8" font-size="31.5" font-style="normal" textLength="20.71" lengthAdjust="spacingAndGlyphs">B</tspan></text>
<text fill="#fff"><tspan x="894.42" y="179.1" font-size="57.5" font-style="italic" textLength="34.52" lengthAdjust="spacingAndGlyphs">S</tspan><tspan x="926.98" y="183.8" font-size="35" font-style="normal" textLength="25.66" lengthAdjust="spacingAndGlyphs">B</tspan></text>
<text font-size="45.5" fill="#0d0d09" stroke="#0d0d09" stroke-width="0.5" font-weight="700"><tspan x="723.25" y="257.9" letter-spacing="-2.80">Bit</tspan> <tspan x="789.53" y="257.9" textLength="20.95" lengthAdjust="spacingAndGlyphs">1</tspan></text>
<text font-size="45.5" fill="#0d0d09" stroke="#0d0d09" stroke-width="0.5" font-weight="700"><tspan x="1014.35" y="257.9" letter-spacing="-2.80">Bit</tspan> <tspan x="1080.56" y="257.9" textLength="25.20" lengthAdjust="spacingAndGlyphs">2</tspan></text>
<text font-size="36" fill="#0d0d09" stroke="#0d0d09" stroke-width="0.5"><tspan x="698.65" y="321" letter-spacing="0.75">-80</tspan></text>
<text font-size="36" fill="#0d0d09" stroke="#0d0d09" stroke-width="0.5"><tspan x="1073.75" y="321" letter-spacing="2.10">80</tspan></text>
<text font-size="45" fill="#0d0d09" stroke="#0d0d09" stroke-width="0.5"><tspan x="858" y="325.1" letter-spacing="-0.22">x (nm)</tspan></text>
<text font-size="36.8" fill="#0d0d09" stroke="#0d0d09" stroke-width="0.5"><tspan x="645.5" y="113.8" letter-spacing="-0.25">10</tspan></text>
<text font-size="36" fill="#0d0d09" stroke="#0d0d09" stroke-width="0.5"><tspan x="665.18" y="217.9" textLength="21.18" lengthAdjust="spacingAndGlyphs">0</tspan></text>
<text transform="translate(640 0) rotate(-90)" font-size="47" fill="#0d0d09" stroke="#0d0d09" stroke-width="0.5"><tspan x="-268.25" y="0" letter-spacing="-1.52" textLength="157.39" lengthAdjust="spacingAndGlyphs">Potential</tspan> <tspan x="-87.41" y="0" letter-spacing="-2.12" textLength="88.66" lengthAdjust="spacingAndGlyphs">(mV)</tspan></text>
</svg>
</body>
</html>
